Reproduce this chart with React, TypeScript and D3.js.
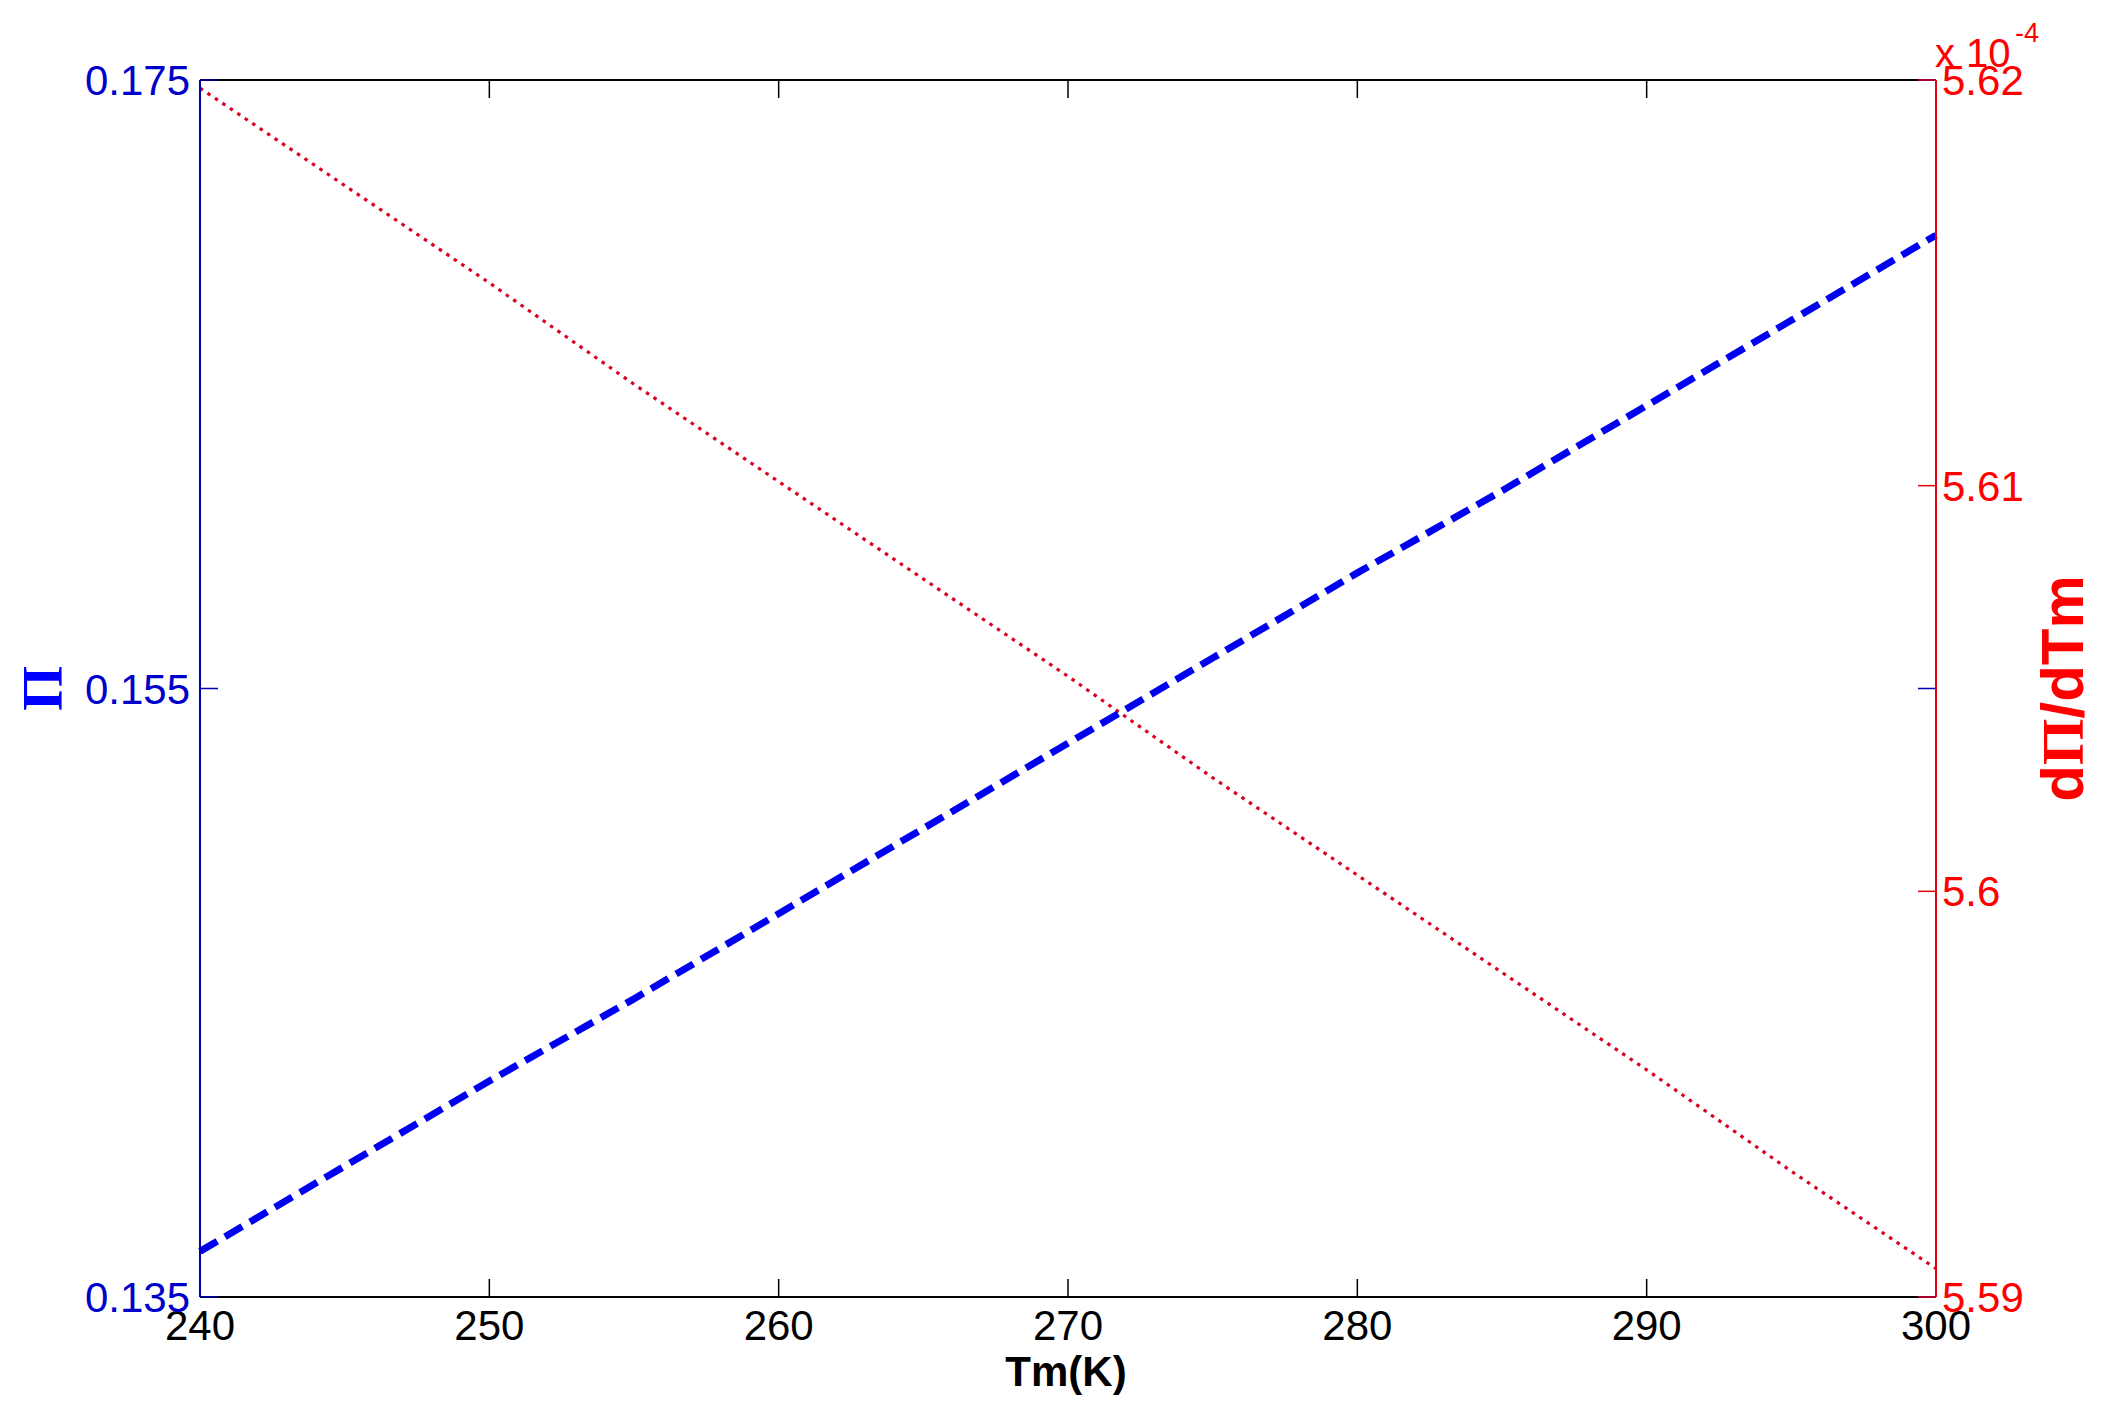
import React from "react";
import * as d3 from "d3";

const tm = [240, 245, 250, 255, 260, 265, 270, 275, 280, 285, 290, 295, 300];
const piValues = [0.1365, 0.1393, 0.1421, 0.1448, 0.1476, 0.1504, 0.1532, 0.156, 0.1588, 0.1615, 0.1643, 0.1671, 0.1699];
const dPiValues = [5.6198, 5.6174, 5.615, 5.6125, 5.6101, 5.6077, 5.6053, 5.6028, 5.6004, 5.598, 5.5956, 5.5931, 5.5907];

const xTicks = [240, 250, 260, 270, 280, 290, 300];
const leftTicks = [0.135, 0.155, 0.175];
const rightTicks = [5.59, 5.6, 5.61, 5.62];
const rightTickLabels = ["5.59", "5.6", "5.61", "5.62"];
const leftTickLabels = ["0.135", "0.155", "0.175"];

const W = 2121;
const H = 1413;
const L = 200, R = 1936, T = 80, B = 1297;
const TICK = 18;

export default function App() {
  const x = d3.scaleLinear().domain([240, 300]).range([L, R]);
  const yL = d3.scaleLinear().domain([0.135, 0.175]).range([B, T]);
  const yR = d3.scaleLinear().domain([5.59, 5.62]).range([B, T]);

  const blueLine = d3.line<number>().x((_, i) => x(tm[i])).y((d) => yL(d))(piValues) || "";
  const redLine = d3.line<number>().x((_, i) => x(tm[i])).y((d) => yR(d))(dPiValues) || "";

  const sans = "Arial, 'Liberation Sans', sans-serif";
  const serif = "'Times New Roman', 'Liberation Serif', serif";
  const blueAxis = "#0000b0";
  const blueText = "#0000cc";
  const redAxis = "#e00010";
  const redText = "#ff0000";

  return (
    <svg width={W} height={H} style={{ position: "absolute", left: 0, top: 0, background: "#fff" }}>
      <rect x={0} y={0} width={W} height={H} fill="#fff" />
      {/* data lines */}
      <path d={redLine} fill="none" stroke="#dc0020" strokeWidth={3.2} strokeDasharray="3.5 5.5" />
      <path d={blueLine} fill="none" stroke="#0000f0" strokeWidth={7} strokeDasharray="20 9" />

      {/* top and bottom axes */}
      <line x1={L} x2={R} y1={T} y2={T} stroke="#000" strokeWidth={2} />
      <line x1={L} x2={R} y1={B} y2={B} stroke="#000" strokeWidth={2} />
      {xTicks.map((t) => (
        <g key={"xt" + t}>
          <line x1={x(t)} x2={x(t)} y1={B} y2={B - TICK} stroke="#000" strokeWidth={1.5} />
          <line x1={x(t)} x2={x(t)} y1={T} y2={T + TICK} stroke="#000" strokeWidth={1.5} />
          <text x={x(t)} y={1340} textAnchor="middle" fontFamily={sans} fontSize={42} fill="#000">
            {t}
          </text>
        </g>
      ))}
      <text x={1066} y={1386} textAnchor="middle" fontFamily={sans} fontSize={42} fontWeight="bold" fill="#000">
        Tm(K)
      </text>

      {/* left axis */}
      <line x1={L} x2={L} y1={T} y2={B} stroke={blueAxis} strokeWidth={2} />
      {leftTicks.map((t, i) => (
        <g key={"lt" + t}>
          <line x1={L} x2={L + TICK} y1={yL(t)} y2={yL(t)} stroke={blueAxis} strokeWidth={1.5} />
          <line x1={R} x2={R - TICK} y1={yL(t)} y2={yL(t)} stroke={blueAxis} strokeWidth={1.5} />
          <text x={190} y={yL(t) + 15} textAnchor="end" fontFamily={sans} fontSize={42} fill={blueText}>
            {leftTickLabels[i]}
          </text>
        </g>
      ))}
      <text
        transform={`translate(62, ${yL(0.155)}) rotate(-90)`}
        textAnchor="middle"
        fontFamily={serif}
        fontSize={58}
        fontWeight="bold"
        fill="#0000ff"
      >
        Π
      </text>

      {/* right axis */}
      <line x1={R} x2={R} y1={T} y2={B} stroke={redAxis} strokeWidth={2} />
      {rightTicks.map((t, i) => (
        <g key={"rt" + t}>
          <line x1={R} x2={R - TICK} y1={yR(t)} y2={yR(t)} stroke={redAxis} strokeWidth={1.5} />
          <text x={1942} y={yR(t) + 15} textAnchor="start" fontFamily={sans} fontSize={42} fill={redText}>
            {rightTickLabels[i]}
          </text>
        </g>
      ))}
      <text x={1935} y={67} fontFamily={sans} fontSize={40} fill={redText}>
        x 10
      </text>
      <text x={2015} y={42} fontFamily={sans} fontSize={27} fill={redText}>
        -4
      </text>
      <text
        transform={`translate(2083, ${yR(5.605)}) rotate(-90)`}
        textAnchor="middle"
        fontFamily={sans}
        fontSize={60}
        fontWeight="bold"
        fill={redText}
      >
        d<tspan fontFamily={serif}>Π</tspan>/dTm
      </text>
    </svg>
  );
}
